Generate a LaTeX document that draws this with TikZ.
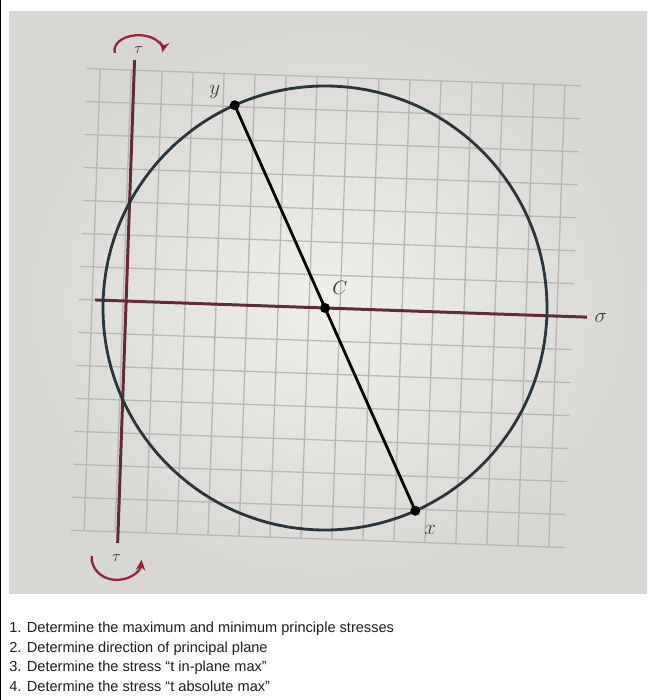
\documentclass[tikz,border=0pt]{standalone}
\usepackage{fontspec}
\setmainfont{Liberation Sans}
\usepackage{tikz}
\usetikzlibrary{calc,positioning,arrows.meta}
\definecolor{paperin}{RGB}{240,239,235}
\definecolor{paperout}{RGB}{216,215,211}
\definecolor{gridgray}{RGB}{184,182,179}
\definecolor{axisred}{RGB}{98,44,54}
\definecolor{circblue}{RGB}{40,54,60}
\definecolor{turnred}{RGB}{152,34,54}
\definecolor{labgray}{RGB}{60,60,66}
\definecolor{txt}{RGB}{30,30,30}
\tikzset{
  gridln/.style={gridgray,line width=0.75pt},
  axisln/.style={axisred,line width=1.7pt},
  lbl/.style={labgray,inner sep=0pt},
  turn/.style={turnred,line width=1.3pt,-{Stealth[length=6pt,width=5.5pt]}},
  task/.style={txt,anchor=base west,inner sep=0pt,font=\fontsize{8.3}{10}\selectfont}
}
\begin{document}
\begin{tikzpicture}[x=0.02cm,y=0.02cm]
  \useasboundingbox (0,0) rectangle (654,700);
  \fill[white] (0,0) rectangle (654,700);
  \fill[black] (0,0) rectangle (1.5,700);
  \shade[inner color=paperin,outer color=paperout] (9,106) rectangle (647,688);
  \pgfmathsetmacro{\R}{222}
  \coordinate (C) at (325,392);
  % graph paper is a little turned in the photo
  \begin{scope}[shift={(C)},rotate=-2]
    \foreach \i in {0,...,15} \draw[gridln] ({-233+31*\i},-231) -- ({-233+31*\i},231);
    \foreach \j in {0,...,14} \draw[gridln] (-246,{231-33*\j}) -- (248,{231-33*\j});
    \coordinate (sl) at (-230,0);
    \coordinate (sr) at (262,0);
    \coordinate (tt) at (-199,241);
    \coordinate (tb) at (-199,-242);
    \draw[axisln] (sl) -- (sr);
    \draw[axisln] (tt) -- (tb);
    \draw[circblue,line width=1.6pt] (0,0) circle[radius=\R];
    \coordinate (ypt) at (116:\R);
    \coordinate (xpt) at (-64:\R);
  \end{scope}
  \draw[black,line width=1.6pt] (ypt) -- (xpt);
  \foreach \p in {ypt,C,xpt} \fill (\p) circle[radius=5];
  % labels
  \node[lbl,font=\fontsize{12}{12}\selectfont] (ylab) at ($(ypt)+(-20,13)$) {$y$};
  \node[lbl,font=\fontsize{12}{12}\selectfont] (xlab) at ($(xpt)+(15,-19)$) {$x$};
  \node[lbl,font=\fontsize{11}{11}\selectfont] (Clab) at ($(C)+(15,20)$) {$C$};
  \node[lbl,font=\fontsize{13}{13}\selectfont] (sig) at ($(sr)+(14,-1)$) {$\sigma$};
  \node[lbl,font=\fontsize{9}{9}\selectfont] (tauT) at ($(tt)+(4,10)$) {$\tau$};
  \node[lbl,font=\fontsize{9}{9}\selectfont] (tauB) at ($(tb)+(-1,-15)$) {$\tau$};
  \draw[turn] ($(tauT)+(190:24 and 15)$) arc[start angle=190,end angle=-8,x radius=24,y radius=15];
  \draw[turn] ($(tauB)+(175:25 and 22)$) arc[start angle=175,end angle=355,x radius=25,y radius=22];
  % questions
  \node[task] (line1) at (9,67) {1. Determine the maximum and minimum principle stresses};
  \node[task,below=0.39cm of line1.base west,anchor=base west] (line2) {2. Determine direction of principal plane};
  \node[task,below=0.39cm of line2.base west,anchor=base west] (line3) {3. Determine the stress “t in-plane max”};
  \node[task,below=0.39cm of line3.base west,anchor=base west] (line4) {4. Determine the stress “t absolute max”};
\end{tikzpicture}
\end{document}
